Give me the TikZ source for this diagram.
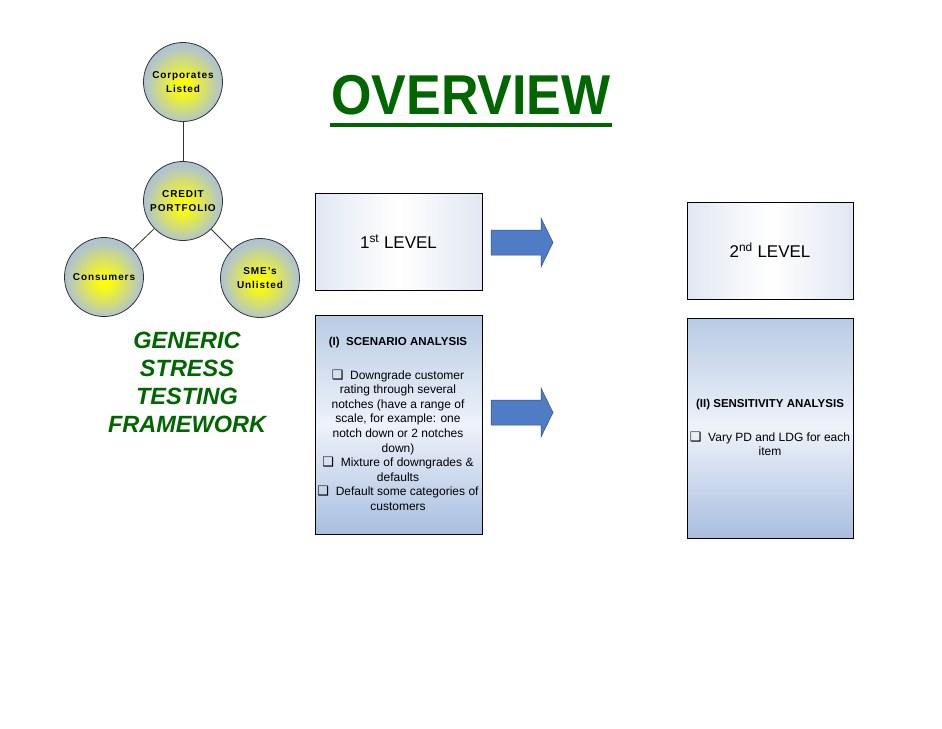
\documentclass[tikz,border=0pt]{standalone}
\usepackage{fontspec}
\setmainfont{Liberation Sans}
\newfontfamily\symfont{DejaVu Sans}
\usetikzlibrary{shapes.geometric}
\definecolor{ovgreen}{RGB}{0,102,0}
\definecolor{circout}{RGB}{176,196,206}
\definecolor{circin}{RGB}{255,255,0}
\definecolor{arrowblue}{RGB}{79,124,196}
\definecolor{arrowedge}{RGB}{50,80,130}
\definecolor{boxtop}{RGB}{184,203,228}
\definecolor{boxmid}{RGB}{238,242,250}
\definecolor{boxbot}{RGB}{168,190,224}
\definecolor{lvside}{RGB}{225,231,242}
\pgfdeclareradialshading{ballsh}{\pgfpoint{0bp}{-3bp}}{color(0bp)=(circin); color(5bp)=(circin!88!circout); color(24bp)=(circout); color(50bp)=(circout)}
\newcommand{\qb}{{\symfont\fontsize{13}{13}\selectfont ❑}}
\tikzset{
  ball/.style={circle, draw=black!80, line width=0.8pt, minimum size=79pt, inner sep=0pt,
    shading=ballsh, align=center, font=\fontsize{10}{13.5}\selectfont\bfseries\addfontfeature{LetterSpace=9}},
  levelbox/.style={draw=black, line width=0.7pt, shade, shading=axis, left color=lvside, right color=lvside, middle color=white},
  anbox/.style={draw=black, line width=0.7pt, shade, shading=axis, top color=boxtop, bottom color=boxbot, middle color=boxmid},
  bigarrow/.style={fill=arrowblue, draw=arrowedge, line width=0.5pt},
  link/.style={draw=black!80, line width=0.8pt},
  body/.style={align=center, font=\fontsize{12}{14.6}\selectfont}
}
\begin{document}
\begin{tikzpicture}[x=1pt,y=-1pt]
\useasboundingbox (0,0) rectangle (942,728);
% circles
\node[ball] (corp) at (183,82) {Corporates\\Listed};
\node[ball] (credit) at (183,201) {CREDIT\\PORTFOLIO};
\node[ball] (cons) at (104,277) {Consumers};
\node[ball] (sme) at (260,278) {SME's\\Unlisted};
\draw[link] (corp) -- (credit);
\draw[link] (credit) -- (cons);
\draw[link] (credit) -- (sme);
% title
\node[anchor=base, text=ovgreen, font=\fontsize{52}{52}\selectfont\bfseries, inner sep=0pt] (title) at (471,114.5) {\scalebox{1}[1.08]{OVERVIEW}};
\draw[ovgreen, line width=4pt] (330,124.5) -- (612,124.5);
% generic
\node[text=ovgreen, align=center, font=\fontsize{23.5}{28}\selectfont\bfseries\itshape, inner sep=0pt] (gen) at (187,382) {GENERIC\\STRESS\\TESTING\\FRAMEWORK};
% level boxes
\node[levelbox, minimum width=167pt, minimum height=97pt, inner sep=0pt] (l1) at (398.5,241.5) {};
\node[font=\fontsize{17}{20}\selectfont] (l1t) at (398.5,242) {1\textsuperscript{st} LEVEL};
\node[levelbox, minimum width=166pt, minimum height=97pt, inner sep=0pt] (l2) at (770,250.5) {};
\node[font=\fontsize{17}{20}\selectfont] (l2t) at (770,250) {2\textsuperscript{nd} LEVEL};
% analysis boxes
\node[anbox, minimum width=167pt, minimum height=219pt, inner sep=0pt] (s1) at (398.5,424.5) {};
\node[anbox, minimum width=166pt, minimum height=220pt, inner sep=0pt] (s2) at (770,428) {};
\node[font=\fontsize{11.5}{13}\selectfont\bfseries] (s1t) at (398,343) {(I)\ \ SCENARIO ANALYSIS};
\node[body, anchor=north] (s1b) at (398,366) {\qb\ \ Downgrade customer\\rating through several\\notches (have a range of\\scale, for example: one\\notch down or 2 notches\\down)\\\qb\ \ Mixture of downgrades \&\\defaults\\\qb\ \ Default some categories of\\customers};
\node[font=\fontsize{11.5}{13}\selectfont\bfseries] (s2t) at (770,405) {(II) SENSITIVITY ANALYSIS};
\node[body, anchor=north] (s2b) at (770,428) {\qb\ \ Vary PD and LDG for each\\item};
% arrows
\draw[bigarrow] (491,230) -- (541,230) -- (541,218) -- (553,242.5) -- (541,267) -- (541,255) -- (491,255) -- cycle;
\draw[bigarrow] (491,400) -- (541,400) -- (541,388) -- (553,412.5) -- (541,437) -- (541,425) -- (491,425) -- cycle;
\end{tikzpicture}
\end{document}
